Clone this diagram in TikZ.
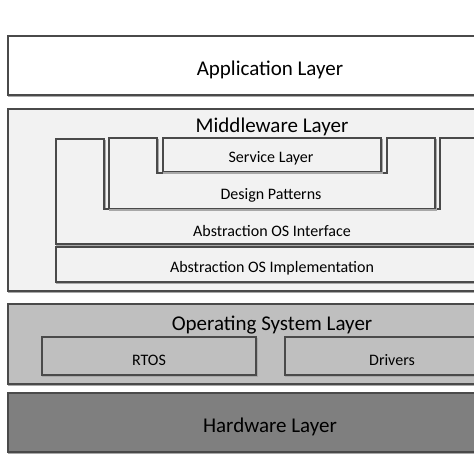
\documentclass[tikz,border=0pt]{standalone}
\usepackage{fontspec}
\setmainfont{Carlito}
\definecolor{edge}{HTML}{4A4A4A}
\definecolor{shade}{HTML}{A8A8A8}
\definecolor{midfill}{HTML}{F2F2F2}
\definecolor{osfill}{HTML}{BFBFBF}
\definecolor{hwfill}{HTML}{7F7F7F}
\tikzset{
  layer/.style={draw=edge, line width=1.1pt},
  shadowline/.style={draw=shade, line width=1.1pt},
  biglabel/.style={font=\fontsize{21}{24}\selectfont, text=black, inner sep=0pt},
  smalllabel/.style={font=\fontsize{16}{19}\selectfont, text=black, inner sep=0pt},
}
\begin{document}
\begin{tikzpicture}[x=1pt,y=-1pt]
\useasboundingbox (0,0) rectangle (474,474);
\fill[white] (0,0) rectangle (474,474);
\begin{scope}
\clip (0,0) rectangle (474,474);
% Application layer
\draw[shadowline] (9,37.5) rectangle (541,96.5);
\draw[layer, fill=white] (8,36) rectangle (540,95);
% Middleware layer
\draw[shadowline] (9,110.5) rectangle (541,292.5);
\draw[layer, fill=midfill] (8,109) rectangle (540,291);
% Abstraction OS Interface (U shape)
\draw[shadowline] (57,140.5) -- (105,140.5) -- (105,210.5) -- (441,210.5) -- (441,139.5) -- (491,139.5) -- (491,245.5) -- (57,245.5) -- cycle;
\draw[layer, fill=midfill] (56,139) -- (104,139) -- (104,209) -- (440,209) -- (440,138) -- (490,138) -- (490,244) -- (56,244) -- cycle;
% Design Patterns (U shape)
\draw[shadowline] (110,139.5) -- (158,139.5) -- (158,174.5) -- (388,174.5) -- (388,139.5) -- (436,139.5) -- (436,210) -- (110,210) -- cycle;
\draw[layer, fill=midfill] (109,138) -- (157,138) -- (157,173) -- (387,173) -- (387,138) -- (435,138) -- (435,208.5) -- (109,208.5) -- cycle;
% Service layer
\draw[shadowline] (164,139.5) rectangle (382,173);
\draw[layer, fill=midfill] (163,138) rectangle (381,171.5);
% Abstraction OS Implementation
\draw[shadowline] (57,248.5) rectangle (541,283.5);
\draw[layer, fill=midfill] (56,247) rectangle (540,282);
% Operating system layer
\draw[shadowline] (9,305.5) rectangle (541,385.5);
\draw[layer, fill=osfill] (8,304) rectangle (540,384);
\draw[shadowline] (43,338.5) rectangle (257,376.5);
\draw[layer, fill=osfill] (42,337) rectangle (256,375);
\draw[shadowline] (286,338.5) rectangle (500,376.5);
\draw[layer, fill=osfill] (285,337) rectangle (499,375);
% Hardware layer
\draw[shadowline] (9,394.5) rectangle (541,453.5);
\draw[layer, fill=hwfill] (8,393) rectangle (540,452);
\end{scope}
% Labels
\node[biglabel] (app) at (270,70) {Application Layer};
\node[biglabel] (mid) at (272,127) {Middleware Layer};
\node[smalllabel] (svc) at (271,158) {Service Layer};
\node[smalllabel] (dp) at (271,195) {Design Patterns};
\node[smalllabel] (aoi) at (272,231) {Abstraction OS Interface};
\node[smalllabel] (aoimpl) at (272,268) {Abstraction OS Implementation};
\node[biglabel] (os) at (272,325) {Operating System Layer};
\node[smalllabel] (rtos) at (149,360) {RTOS};
\node[smalllabel] (drv) at (392,360) {Drivers};
\node[biglabel] (hw) at (270,427) {Hardware Layer};
\end{tikzpicture}
\end{document}
